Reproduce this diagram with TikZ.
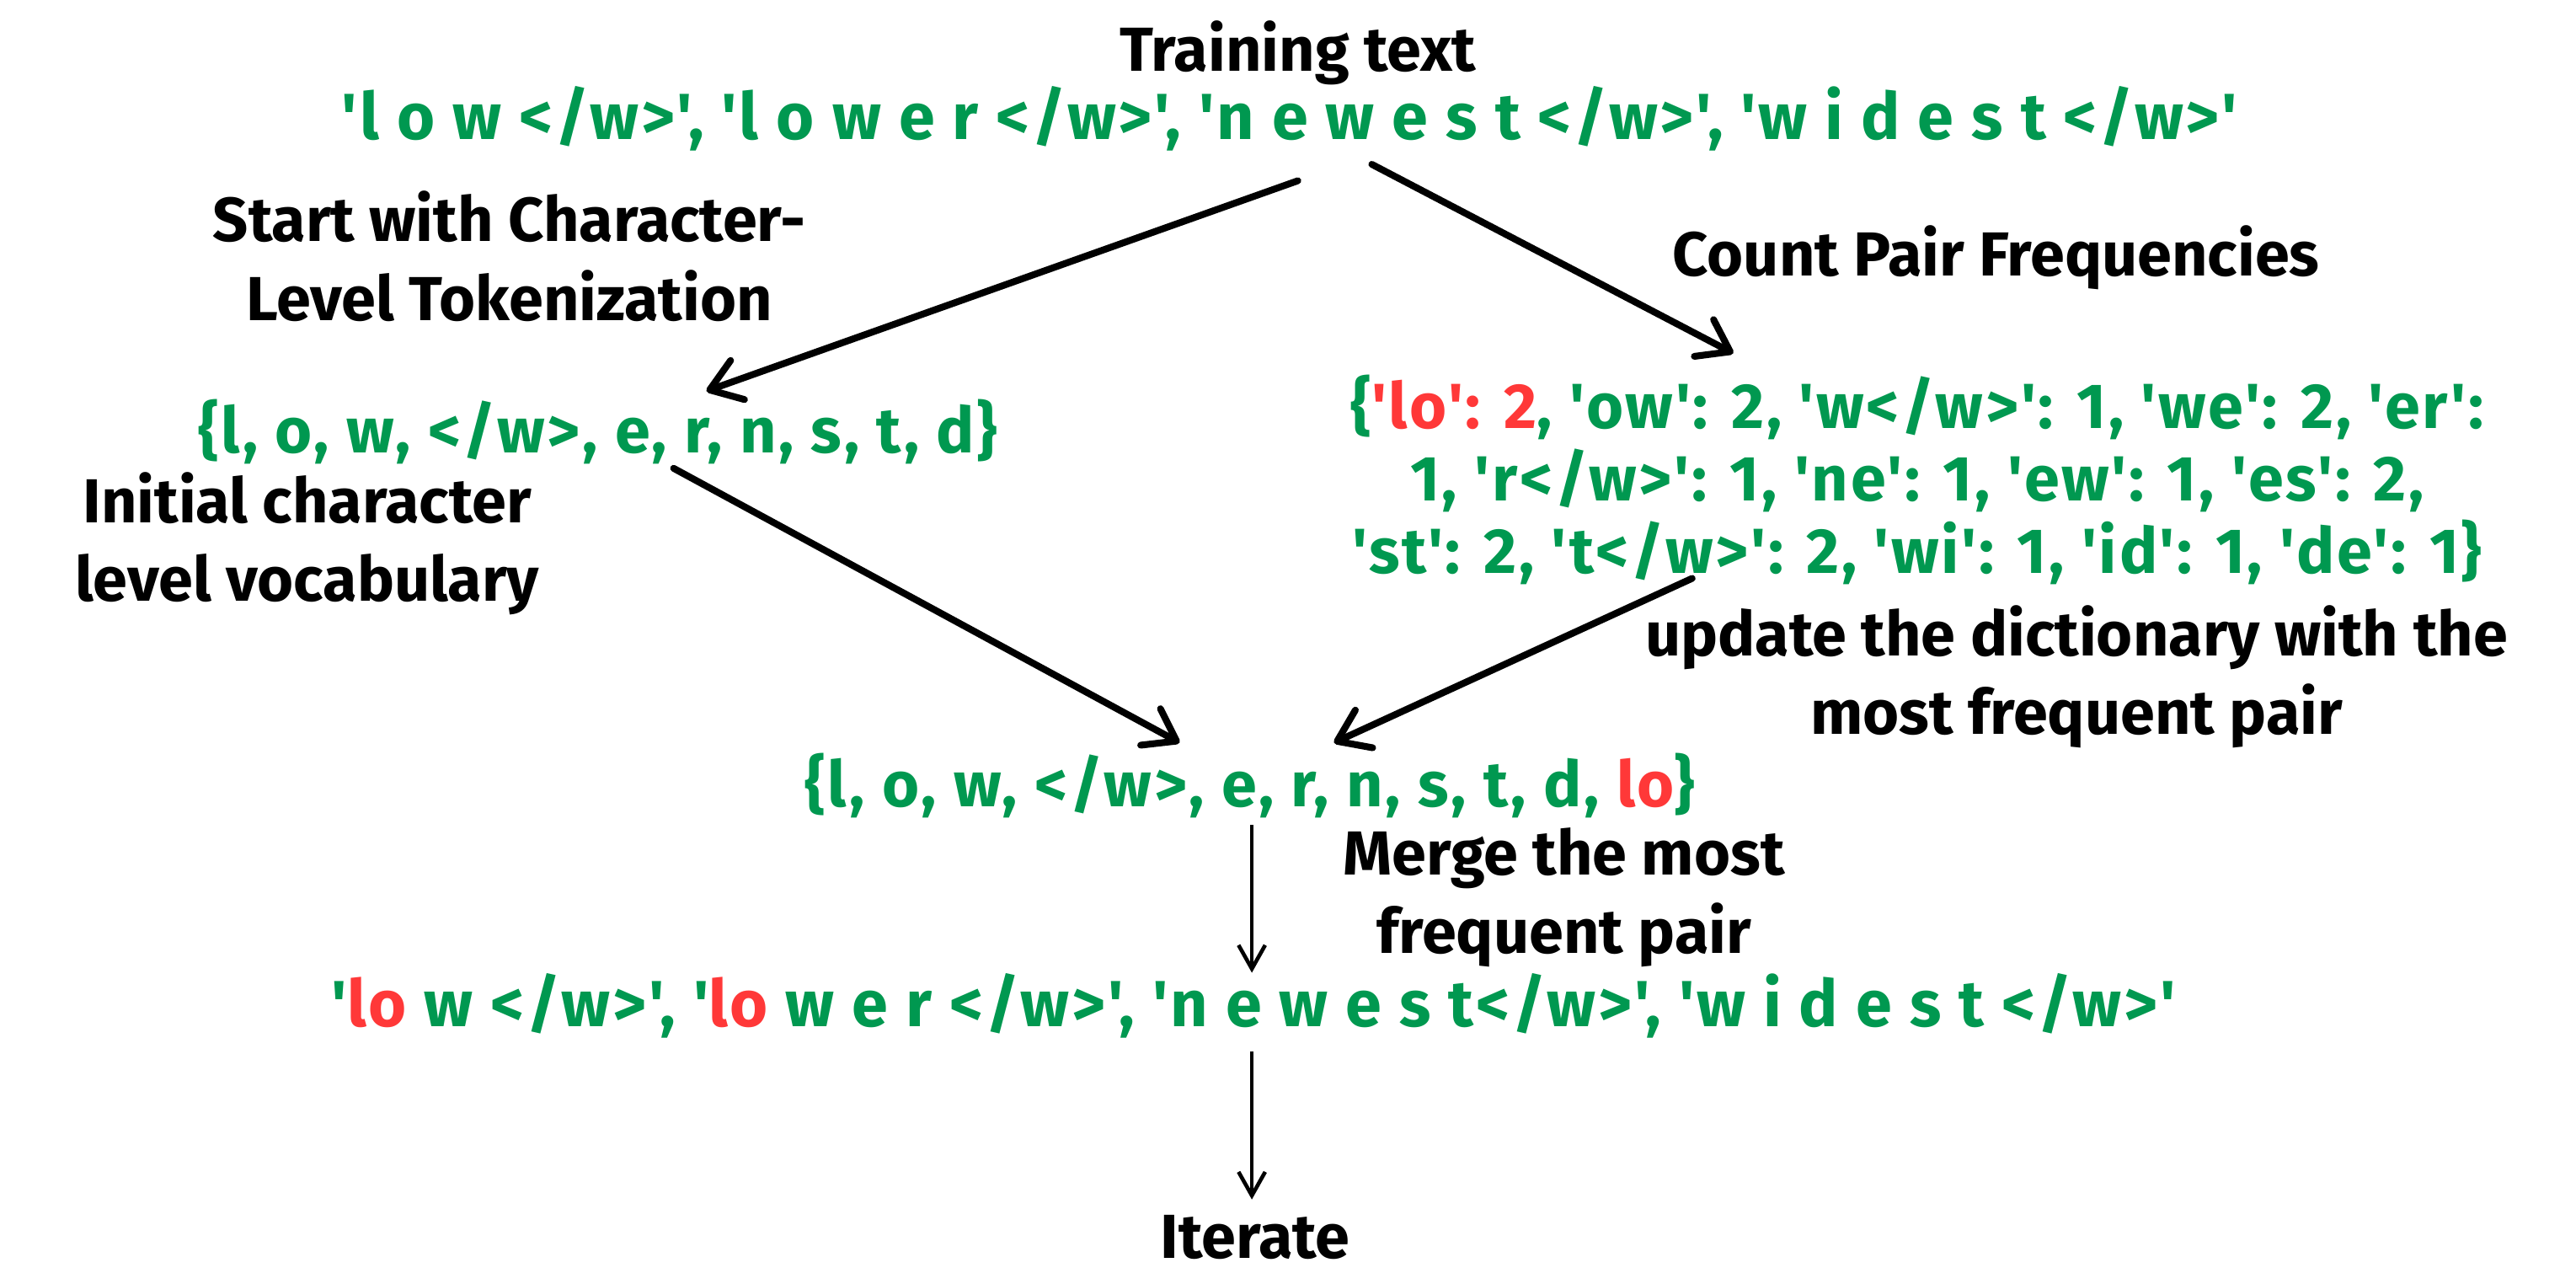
\documentclass[tikz,border=0pt]{standalone}
\usepackage{fontspec}
\setmainfont{Fira Sans}
\newfontfamily\tokfont{Fira Sans}[LetterSpace=3.5]
\usepackage{tikz}
\usepackage{xcolor}
\usetikzlibrary{positioning,arrows.meta}
\definecolor{tokgreen}{RGB}{0,152,80}
\definecolor{tokred}{RGB}{255,56,56}
\newcommand{\rd}[1]{\textcolor{tokred}{#1}}

\begin{document}
\begin{tikzpicture}[x=0.0195cm,y=0.0195cm,
  lbl/.style={font=\fontsize{21}{26.5}\selectfont\bfseries,align=center},
  tok/.style={font=\tokfont\fontsize{21.5}{24.6}\selectfont\bfseries,text=tokgreen,align=center},
  arr/.style={-{Straight Barb[length=10pt,width=14pt,line cap=round,line join=round]},line width=2.3pt,line cap=round},
  varr/.style={-{Straight Barb[length=8pt,width=9pt]},line width=1.3pt}]
\tikzstyle{every node}+=[inner sep=0pt]
\useasboundingbox (0,0) rectangle (1568,-781);
% top
\node [lbl] (title) at (790,-32) {Training text};
\node [tok,font=\tokfont\fontsize{22}{24}\selectfont\bfseries] (train) at (785,-72)
  {'l o w </w>', 'l o w e r </w>', 'n e w e s t </w>', 'w i d e s t </w>'};
% left branch
\node [lbl] (startlbl) at (310,-156) {Start with Character-\\Level Tokenization};
\node [tok] (vocab) at (364,-263) {\{l, o, w, </w>, e, r, n, s, t, d\}};
\node [lbl] (initlbl) at (187,-331) {Initial character\\level vocabulary};
% right branch
\node [lbl] (countlbl) at (1215,-157) {Count Pair Frequencies};
\node [tok,font=\tokfont\fontsize{21.5}{24.6}\selectfont\bfseries] (pairs) at (1167,-292)
  {\{\rd{'lo': 2}, 'ow': 2, 'w</w>': 1, 'we': 2, 'er':\\
   1, 'r</w>': 1, 'ne': 1, 'ew': 1, 'es': 2,\\
   'st': 2, 't</w>': 2, 'wi': 1, 'id': 1, 'de': 1\}};
\node [lbl] (updlbl) at (1264,-412) {update the dictionary with the\\most frequent pair};
% merge step
\node [tok] (vocab2) at (761,-478) {\{l, o, w, </w>, e, r, n, s, t, d, \rd{lo}\}};
\node [lbl] (mergelbl) at (952,-546) {Merge the most\\frequent pair};
\node [tok,font=\tokfont\fontsize{22}{24}\selectfont\bfseries] (merged) at (763,-612)
  {'\rd{lo} w </w>', '\rd{lo} w e r </w>', 'n e w e s t</w>', 'w i d e s t </w>'};
\node [lbl] (iter) at (764,-753) {Iterate};
% arrows
\draw [arr] ([shift={(5,-38)}]train.center) -- ([shift={(66,25)}]vocab.center);
\draw [arr] ([shift={(50,-28)}]train.center) -- ([shift={(-112,77)}]pairs.center);
\draw [arr] ([shift={(46,-22)}]vocab.center) -- ([shift={(-43,26)}]vocab2.center);
\draw [arr] ([shift={(-137,-60)}]pairs.center) -- ([shift={(51,26)}]vocab2.center);
\draw [varr] ([shift={(1,-24)}]vocab2.center) -- ([shift={(-1,20)}]merged.center);
\draw [varr] ([shift={(-1,-28)}]merged.center) -- ([shift={(-2,23)}]iter.center);
\end{tikzpicture}
\end{document}
